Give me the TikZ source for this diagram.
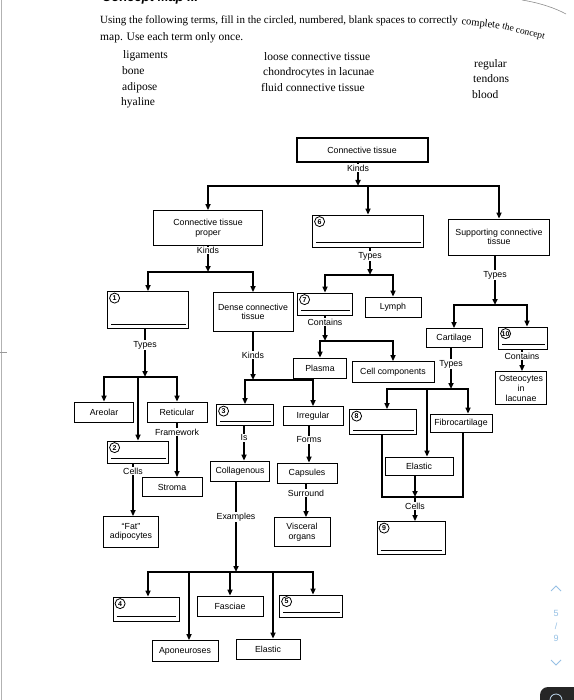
\documentclass[tikz,border=0pt]{standalone}
\usepackage{fontspec}
\setmainfont{Liberation Serif}
\setsansfont{Liberation Sans}
\usetikzlibrary{arrows.meta}
\definecolor{navblue}{RGB}{150,192,228}

\tikzset{
  box/.style={draw, line width=0.8pt, align=center, inner sep=1pt, font=\sffamily\fontsize{8.8}{9.5}\selectfont},
  blank/.style={box},
  topbox/.style={box, line width=2pt},
  wh/.style args={#1/#2}{minimum width=#1, minimum height=#2},
  lbl/.style={fill=white, inner sep=1pt, font=\sffamily\fontsize{8.8}{9.5}\selectfont},
  link/.style={line width=1.6pt},
  arr/.style={link, -{Triangle[length=6pt,width=5pt]}},
  numc/.style={circle, draw, line width=0.8pt, inner sep=0pt, minimum size=10pt, font=\sffamily\bfseries\fontsize{7}{7}\selectfont},
  term/.style={anchor=base west, inner sep=0pt, font=\fontsize{11.5}{12}\selectfont},
}

\begin{document}
\begin{tikzpicture}[x=1pt,y=1pt,yscale=-1]
\useasboundingbox (0,0) rectangle (573,700);

% Page edge, curl and viewer controls
\draw[black!30, line width=1pt] (1,0) -- (1,700);
\draw[black!40, line width=0.6pt] (0,352) -- (7,352);
\draw[black!45, line width=0.6pt] (522,0) .. controls (540,3) and (555,8) .. (566,14);
\draw[navblue, line width=0.8pt] (551,591) -- (556,586) -- (561,591);
\node[text=navblue, inner sep=0pt, font=\sffamily\fontsize{9}{9}\selectfont] (pg) at (556,613) {5};
\node[text=navblue, inner sep=0pt, font=\sffamily\fontsize{9}{9}\selectfont] (sl) at (556,626) {/};
\node[text=navblue, inner sep=0pt, font=\sffamily\fontsize{9}{9}\selectfont] (tot) at (556,638) {9};
\draw[navblue, line width=0.8pt] (551,660) -- (556,665) -- (561,660);
\fill[black!85, rounded corners=8pt] (540,687) rectangle (590,715);
\draw[navblue!60, line width=0.8pt] (556,700) circle (6);

% Heading and word list
\node[anchor=base west, inner sep=0pt, font=\sffamily\bfseries\itshape\fontsize{13}{13}\selectfont] (title) at (102,1.5) {Concept Map III};
\node[term, font=\fontsize{11}{11}\selectfont] (intro) at (100,24) {Using the following terms, fill in the circled, numbered, blank spaces to correctly};
\node[term, rotate=-7, font=\fontsize{10.5}{11}\selectfont] (introb) at ([xshift=3]intro.base east) {complete};
\node[term, rotate=-14, font=\fontsize{9.5}{10}\selectfont] (introc) at ([xshift=2]introb.base east) {the concept};
\node[term] (intro2) at (100,40.5) {map. Use each term only once.};
\node[term] (w1) at (123,59) {ligaments};
\node[term] (w2) at (122,75) {bone};
\node[term] (w3) at (122,91) {adipose};
\node[term] (w4) at (121,106) {hyaline};
\node[term] (w5) at (264,61) {loose connective tissue};
\node[term] (w6) at (263,76) {chondrocytes in lacunae};
\node[term] (w7) at (261,92) {fluid connective tissue};
\node[term] (w8) at (474,68) {regular};
\node[term] (w9) at (473,83) {tendons};
\node[term] (w10) at (472,99) {blood};

% Boxes
\node[topbox, wh=131/24] (ct) at (362,150) {Connective tissue};
\node[box, wh=109/35] (ctp) at (208,228) {Connective tissue\\proper};
\node[blank, wh=111/32] (b6) at (368,231) {};
\node[box, wh=101/36] (sct) at (499,237) {Supporting connective\\tissue};
\node[blank, wh=81/37] (b1) at (148,310) {};
\node[box, wh=80/39] (dct) at (253,312) {Dense connective\\tissue};
\node[blank, wh=55/22] (b7) at (325,304) {};
\node[box, wh=56/20] (lymph) at (393,307) {Lymph};
\node[box, wh=56/19] (cart) at (454,338) {Cartilage};
\node[blank, wh=49/22] (b10) at (523,338) {};
\node[box, wh=53/20] (plasma) at (320,368) {Plasma};
\node[box, wh=82/21] (cellc) at (393,372) {Cell components};
\node[box, wh=51/33, font=\sffamily\fontsize{8.8}{10}\selectfont] (osteo) at (521,388) {Osteocytes\\in\\lacunae};
\node[box, wh=59/20] (areolar) at (104,412) {Areolar};
\node[box, wh=60/20] (retic) at (177,412) {Reticular};
\node[blank, wh=57/21] (b3) at (245,415) {};
\node[box, wh=60/19] (irreg) at (313,416) {Irregular};
\node[blank, wh=67/25] (b8) at (383,422) {};
\node[box, wh=62/18] (fibro) at (461,423) {Fibrocartilage};
\node[blank, wh=61/22] (b2) at (138,452) {};
\node[box, wh=59/20] (coll) at (240,471) {Collagenous};
\node[box, wh=60/20] (caps) at (307,473) {Capsules};
\node[box, wh=68/18] (elas1) at (419,466) {Elastic};
\node[box, wh=60/19] (stroma) at (172,487) {Stroma};
\node[box, wh=55/31] (fat) at (131,532) {``Fat''\\adipocytes};
\node[box, wh=56/29] (visc) at (302,532) {Visceral\\organs};
\node[blank, wh=68/33] (b9) at (411,538) {};
\node[blank, wh=66/24] (b4) at (146,609) {};
\node[box, wh=66/20] (fasc) at (230,606) {Fasciae};
\node[blank, wh=63/22] (b5) at (311,606) {};
\node[box, wh=66/21] (apon) at (185,651) {Aponeuroses};
\node[box, wh=64/20] (elas2) at (268,649) {Elastic};

% Circled numbers and answer lines
\foreach \b/\n in {b1/1,b2/2,b3/3,b4/4,b5/5,b6/6,b7/7,b8/8,b9/9,b10/10}{
  \node[numc] (n\n) at ([shift={(7.5,7)}]\b.north west) {\n};
  \draw[line width=0.7pt] ([shift={(4,-5)}]\b.south west) -- ([shift={(-3,-5)}]\b.south east);
}

% Link words
\node[lbl] (k1) at (358,168) {Kinds};
\node[lbl] (k2) at (208,250) {Kinds};
\node[lbl] (t6) at (370,256) {Types};
\node[lbl] (ts) at (495,275) {Types};
\node[lbl] (t1) at (145,345) {Types};
\node[lbl] (kd) at (253,355) {Kinds};
\node[lbl] (c7) at (325,322) {Contains};
\node[lbl] (c10) at (522,356) {Contains};
\node[lbl] (tc) at (451,364) {Types};
\node[lbl] (fw) at (177,432) {Framework};
\node[lbl] (is) at (244,438) {Is};
\node[lbl] (fo) at (309,440) {Forms};
\node[lbl] (c2) at (133,471) {Cells};
\node[lbl] (su) at (306,493) {Surround};
\node[lbl] (c9) at (415,506) {Cells};
\node[lbl] (ex) at (236,517) {Examples};

% Junctions
\coordinate (j1) at (358,186);
\coordinate (j2) at (208,272);
\coordinate (j3) at (370,275);
\coordinate (j4) at (495,305);
\coordinate (j5) at (145,377);
\coordinate (j6) at (253,380);
\coordinate (j7) at (325,341);
\coordinate (j8) at (451,389);
\coordinate (j9) at (236,572);
\coordinate (u1) at (382,497);
\coordinate (u2) at (463,497);

% Connective tissue
\draw[link] (ct.south -| k1) -- (k1);
\draw[arr] (k1) -- (j1);
\draw[arr] (j1) -| (ctp.north);
\draw[arr] (j1) -| (sct.north);
\draw[arr] (b6.north |- j1) -- (b6.north);

% Connective tissue proper
\draw[link] (ctp.south -| k2) -- (k2);
\draw[arr] (k2) -- (j2);
\draw[arr] (j2) -| (b1.north);
\draw[arr] (j2) -| (dct.north);
\draw[link] (b1.south -| t1) -- (t1);
\draw[arr] (t1) -- (j5);
\draw[arr] (j5) -| (areolar.north);
\draw[arr] (j5) -| (retic.north);
\draw[arr] (b2.north |- j5) -- (b2.north);
\draw[link] (b2.south -| c2) -- (c2);
\draw[arr] (c2) -- (c2 |- fat.north);
\draw[link] (retic.south -| fw) -- (fw);
\draw[arr] (fw) -- (fw |- stroma.north);
\draw[link] (dct.south -| kd) -- (kd);
\draw[arr] (kd) -- (j6);
\draw[arr] (j6) -| (b3.north);
\draw[arr] (j6) -| (irreg.north);
\draw[link] (b3.south -| is) -- (is);
\draw[arr] (is) -- (is |- coll.north);
\draw[link] (irreg.south -| fo) -- (fo);
\draw[arr] (fo) -- (fo |- caps.north);
\draw[link] (caps.south -| su) -- (su);
\draw[arr] (su) -- (su |- visc.north);
\draw[link] (coll.south -| ex) -- (ex);
\draw[arr] (ex) -- (j9);
\draw[arr] (j9) -| ([xshift=2]b4.north);
\draw[arr] (j9) -| ([xshift=2]b5.north);
\draw[arr] ([xshift=4]apon.north |- j9) -- ([xshift=4]apon.north);
\draw[arr] (fasc.north |- j9) -- (fasc.north);
\draw[arr] ([xshift=5]elas2.north |- j9) -- ([xshift=5]elas2.north);

% Fluid connective tissue
\draw[link] (b6.south -| t6) -- (t6);
\draw[arr] (t6) -- (j3);
\draw[arr] (j3) -| (b7.north);
\draw[arr] (j3) -| (lymph.north);
\draw[link] (b7) -- (c7);
\draw[arr] (c7) -- (j7);
\draw[arr] (j7) -| (plasma.north);
\draw[arr] (j7) -| (cellc.north);

% Supporting connective tissue
\draw[link] (sct.south -| ts) -- (ts);
\draw[arr] (ts) -- (j4);
\draw[arr] (j4) -| (cart.north);
\draw[arr] (j4) -| ([xshift=4]b10.north);
\draw[link] (b10.south -| c10) -- (c10);
\draw[arr] (c10) -- (c10 |- osteo.north);
\draw[link] (cart.south -| tc) -- (tc);
\draw[arr] (tc) -- (j8);
\draw[arr] (j8) -| ([xshift=4]b8.north);
\draw[arr] (j8) -| ([xshift=7]fibro.north);
\draw[arr] ([xshift=8]elas1.north |- j8) -- ([xshift=8]elas1.north);
\draw[link] (b8.south -| u1) -- (u1) -- (u2) -- (fibro.south -| u2);
\draw[arr] ([xshift=-4]elas1.south) -- ([xshift=-4]elas1.south |- u1);
\draw[link] (u1 -| c9) -- (c9);
\draw[arr] (c9) -- (c9 |- b9.north);

\end{tikzpicture}
\end{document}
